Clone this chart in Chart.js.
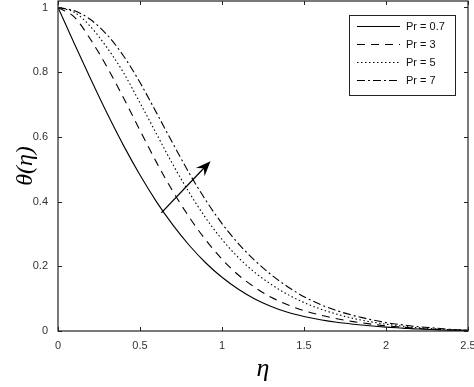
<!DOCTYPE html>
<html>
<head>
<meta charset="utf-8">
<script src="https://cdn.jsdelivr.net/npm/chart.js@4"></script>
<style>
  html, body { margin: 0; padding: 0; background: #fff; }
  #wrap { width: 474px; height: 387px; }
</style>
</head>
<body>
<div id="wrap"><canvas id="theta-chart"></canvas></div>
<script>
// eta values (x axis)
const eta = [0, 0.1, 0.2, 0.3, 0.4, 0.5, 0.6, 0.7, 0.8, 0.9, 1.0, 1.1, 1.2,
  1.3, 1.4, 1.5, 1.6, 1.7, 1.8, 1.9, 2.0, 2.1, 2.2, 2.3, 2.4, 2.5];

// theta(eta), one array per Prandtl number
const thetaPr07 = [1.0, 0.888, 0.778, 0.672, 0.573, 0.482, 0.40, 0.328, 0.265, 0.211, 0.166,
  0.129, 0.099, 0.076, 0.058, 0.045, 0.035, 0.027, 0.021, 0.016, 0.012, 0.009, 0.006, 0.004, 0.002, 0.001];
const thetaPr3 = [1.0, 0.97, 0.90, 0.815, 0.72, 0.62, 0.522, 0.432, 0.352, 0.282, 0.222,
  0.173, 0.135, 0.104, 0.081, 0.063, 0.049, 0.038, 0.029, 0.022, 0.016, 0.012, 0.008, 0.005, 0.003, 0.002];
const thetaPr5 = [1.0, 0.985, 0.94, 0.875, 0.798, 0.705, 0.61, 0.515, 0.428, 0.35, 0.283,
  0.227, 0.181, 0.144, 0.113, 0.088, 0.068, 0.052, 0.039, 0.029, 0.021, 0.015, 0.01, 0.007, 0.004, 0.002];
const thetaPr7 = [1.0, 0.99, 0.962, 0.915, 0.85, 0.768, 0.675, 0.58, 0.488, 0.405, 0.332,
  0.27, 0.218, 0.174, 0.137, 0.106, 0.082, 0.063, 0.048, 0.036, 0.026, 0.019, 0.013, 0.009, 0.005, 0.003];

const seriesLabels = ['Pr = 0.7', 'Pr = 3', 'Pr = 5', 'Pr = 7'];
const xTicks = [0, 0.5, 1, 1.5, 2, 2.5];
const yTicks = [0, 0.2, 0.4, 0.6, 0.8, 1];

// arrow showing increasing Pr, in data units
const arrowFrom = [0.63, 0.365];
const arrowTo = [0.93, 0.525];

function makePoints(ys) {
  return eta.map((x, i) => ({ x: x, y: ys[i] }));
}

const dashes = [[], [8, 6], [1.5, 2.5], [8, 3, 2, 3]];
const curves = [thetaPr07, thetaPr3, thetaPr5, thetaPr7];

const theta_data = {
  datasets: curves.map((c, i) => ({
    label: seriesLabels[i],
    data: makePoints(c),
    borderColor: '#000',
    borderWidth: 1.1,
    borderDash: dashes[i],
    pointRadius: 0,
    cubicInterpolationMode: 'monotone',
    fill: false
  }))
};

const tickFont = { family: "Arial, 'Liberation Sans', sans-serif", size: 11 };

// frame, inward ticks, arrow and boxed legend (MATLAB look)
const matlabLook = {
  id: 'matlabLook',
  afterDatasetsDraw(chart) {
    const ctx = chart.ctx;
    const a = chart.chartArea;
    const xs = chart.scales.x, ys = chart.scales.y;
    ctx.save();
    ctx.strokeStyle = '#222';
    ctx.lineWidth = 1.2;
    ctx.setLineDash([]);
    ctx.strokeRect(a.left, a.top, a.right - a.left, a.bottom - a.top);
    ctx.lineWidth = 1;
    const tl = 4;
    xTicks.forEach(v => {
      const px = Math.round(xs.getPixelForValue(v)) + 0.5;
      ctx.beginPath();
      ctx.moveTo(px, a.bottom); ctx.lineTo(px, a.bottom - tl);
      ctx.moveTo(px, a.top); ctx.lineTo(px, a.top + tl);
      ctx.stroke();
    });
    yTicks.forEach(v => {
      const py = Math.round(ys.getPixelForValue(v)) + 0.5;
      ctx.beginPath();
      ctx.moveTo(a.left, py); ctx.lineTo(a.left + tl, py);
      ctx.moveTo(a.right, py); ctx.lineTo(a.right - tl, py);
      ctx.stroke();
    });

    // arrow
    const x1 = xs.getPixelForValue(arrowFrom[0]), y1 = ys.getPixelForValue(arrowFrom[1]);
    const x2 = xs.getPixelForValue(arrowTo[0]), y2 = ys.getPixelForValue(arrowTo[1]);
    const ang = Math.atan2(y2 - y1, x2 - x1);
    ctx.strokeStyle = '#000';
    ctx.lineWidth = 1.3;
    ctx.beginPath();
    ctx.moveTo(x1, y1); ctx.lineTo(x2 - 6 * Math.cos(ang), y2 - 6 * Math.sin(ang));
    ctx.stroke();
    const hl = 15, hw = 6;
    ctx.fillStyle = '#000';
    ctx.beginPath();
    ctx.moveTo(x2, y2);
    ctx.lineTo(x2 - hl * Math.cos(ang) + hw * Math.sin(ang), y2 - hl * Math.sin(ang) - hw * Math.cos(ang));
    ctx.lineTo(x2 - 0.65 * hl * Math.cos(ang), y2 - 0.65 * hl * Math.sin(ang));
    ctx.lineTo(x2 - hl * Math.cos(ang) - hw * Math.sin(ang), y2 - hl * Math.sin(ang) + hw * Math.cos(ang));
    ctx.closePath();
    ctx.fill();

    // legend box
    const bw = 106, bh = 80;
    const bx = a.right - 13 - bw, by = a.top + 14;
    ctx.fillStyle = '#fff';
    ctx.fillRect(bx, by, bw, bh);
    ctx.strokeStyle = '#222';
    ctx.lineWidth = 1;
    ctx.strokeRect(bx + 0.5, by + 0.5, bw, bh);
    ctx.font = '11px Arial, "Liberation Sans", sans-serif';
    ctx.textBaseline = 'middle';
    ctx.textAlign = 'left';
    chart.data.datasets.forEach((ds, i) => {
      const ly = by + 11.5 + i * 18;
      ctx.strokeStyle = '#000';
      ctx.lineWidth = 1.1;
      ctx.setLineDash(ds.borderDash);
      ctx.beginPath();
      ctx.moveTo(bx + 8, ly); ctx.lineTo(bx + 51, ly);
      ctx.stroke();
      ctx.setLineDash([]);
      ctx.fillStyle = '#111';
      ctx.fillText(ds.label, bx + 57, ly);
    });
    ctx.restore();
  }
};

const theta_config = {
  type: 'line',
  data: theta_data,
  options: {
    responsive: true,
    maintainAspectRatio: false,
    animation: false,
    layout: { padding: { left: 0, right: 6, top: 1, bottom: 0 } },
    plugins: {
      legend: { display: false },
      tooltip: { enabled: false }
    },
    scales: {
      x: {
        type: 'linear',
        min: 0,
        max: 2.5,
        afterBuildTicks: s => { s.ticks = xTicks.map(v => ({ value: v })); },
        afterFit: s => { s.height = 56; s.paddingLeft = 0; s.paddingRight = 0; },
        grid: { display: false, drawTicks: false },
        border: { display: false },
        ticks: { color: '#333', font: tickFont, padding: 8, maxRotation: 0, callback: v => String(v) },
        title: {
          display: true,
          text: 'η',
          color: '#000',
          font: { family: "'Liberation Serif', 'DejaVu Serif', serif", style: 'italic', size: 26 },
          padding: { top: 0, bottom: 2 }
        }
      },
      y: {
        type: 'linear',
        min: 0,
        max: 1.02,
        afterBuildTicks: s => { s.ticks = yTicks.map(v => ({ value: v })); },
        afterFit: s => { s.width = 58; s.paddingTop = 0; s.paddingBottom = 0; },
        grid: { display: false, drawTicks: false },
        border: { display: false },
        ticks: { color: '#333', font: tickFont, padding: 10, callback: v => String(v) },
        title: {
          display: true,
          text: 'θ(η)',
          color: '#000',
          font: { family: "'Liberation Serif', 'DejaVu Serif', serif", style: 'italic', size: 24 },
          padding: { top: 11, bottom: 0 }
        }
      }
    }
  },
  plugins: [matlabLook]
};

const thetaChart = new Chart(document.getElementById('theta-chart'), theta_config);
</script>
</body>
</html>
